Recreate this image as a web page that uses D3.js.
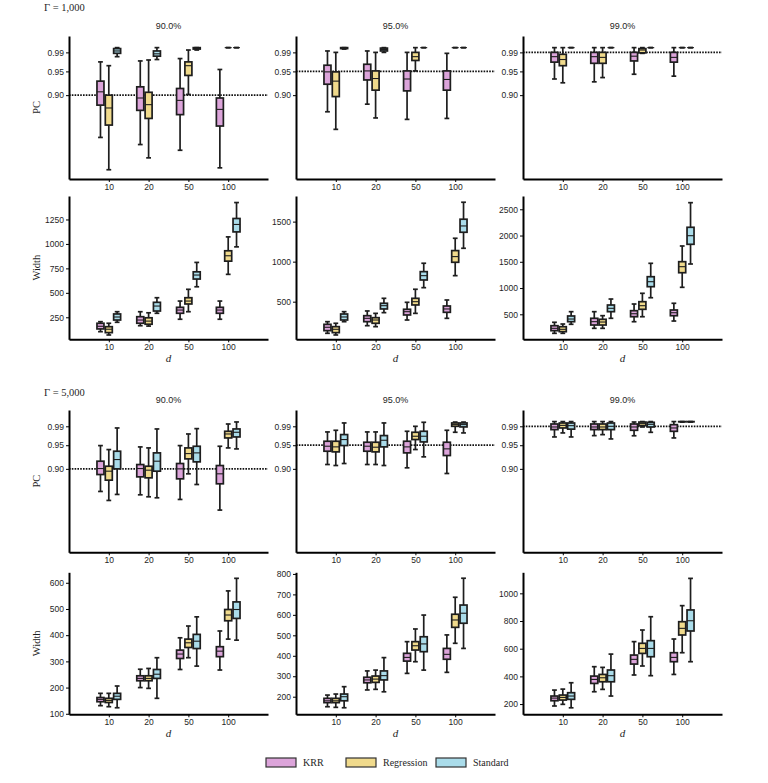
<!DOCTYPE html>
<html><head><meta charset="utf-8">
<script src="https://cdn.jsdelivr.net/npm/d3@7"></script>
<style>body{margin:0;background:#fff}</style>
</head><body><svg id="chart" width="768" height="783"></svg>
<script>
const categories = ["10","20","50","100"];
const methods = ["KRR","Regression","Standard"];
const colors = ["#dca4da","#f0da8c","#aadcea"];
const levels = ["90.0%","95.0%","99.0%"];
const targets = [0.90, 0.95, 0.99];
const gammaLabels = ["\u0393 = 1,000", "\u0393 = 5,000"];
const pcTicks = [0.90, 0.95, 0.99];

// five-number summaries [low whisker, q1, median, q3, high whisker]; per method (KRR, Regression, Standard), per d
const pc_g1000_90 = [
  [[0.811,0.879,0.907,0.9295,0.970],[0.796,0.868,0.894,0.9175,0.972],[0.784,0.859,0.889,0.914,0.977],[0.747,0.835,0.870,0.894,0.954]],
  [[0.743,0.837,0.873,0.900,0.962],[0.768,0.851,0.880,0.906,0.974],[0.9015,0.9415,0.962,0.970,0.995],[1,1,1,1,1]],
  [[0.981,0.988,0.993,0.998,1.0],[0.975,0.982,0.987,0.993,1.0],[0.995,0.997,0.999,1.0,1.0],[1,1,1,1,1]]
];
const pc_g1000_95 = [
  [[0.865,0.923,0.949,0.963,0.993],[0.881,0.932,0.951,0.965,0.993],[0.849,0.909,0.934,0.951,0.990],[0.851,0.9105,0.933,0.951,0.988]],
  [[0.828,0.897,0.9295,0.949,0.990],[0.852,0.9105,0.935,0.951,0.990],[0.951,0.973,0.981,0.990,1.0],[1,1,1,1,1]],
  [[0.997,0.998,0.999,1.0,1.0],[0.990,0.993,0.996,0.999,1.0],[1,1,1,1,1],[1,1,1,1,1]]
];
const pc_g1000_99 = [
  [[0.934,0.9695,0.981,0.990,1.0],[0.928,0.967,0.981,0.990,1.0],[0.944,0.972,0.982,0.990,1.0],[0.940,0.9695,0.9795,0.990,1.0]],
  [[0.926,0.962,0.975,0.986,1.0],[0.937,0.967,0.9795,0.990,1.0],[0.988,0.989,0.995,0.998,1.0],[1,1,1,1,1]],
  [[1,1,1,1,1],[1,1,1,1,1],[1,1,1,1,1],[1,1,1,1,1]]
];
const pc_g5000_90 = [
  [[0.8522,0.888,0.9007,0.9162,0.9492],[0.8451,0.8831,0.9007,0.9091,0.9464],[0.8353,0.8789,0.90,0.9113,0.9492],[0.8128,0.8684,0.8895,0.907,0.9478]],
  [[0.8332,0.8761,0.8951,0.9056,0.9408],[0.8409,0.881,0.8972,0.9056,0.9443],[0.8895,0.9211,0.9323,0.9443,0.9738],[0.9443,0.9654,0.9738,0.9795,0.9949]],
  [[0.8459,0.90,0.9197,0.9373,0.9865],[0.8388,0.8951,0.9162,0.9338,0.9844],[0.8669,0.9148,0.9338,0.9478,0.9851],[0.9422,0.9675,0.9774,0.9844,0.9992]]
];
const pc_g5000_95 = [
  [[0.9092,0.9373,0.9479,0.9584,0.9781],[0.9092,0.9373,0.9479,0.9563,0.9781],[0.9022,0.9338,0.9465,0.9584,0.9795],[0.8902,0.9282,0.9423,0.9563,0.9816]],
  [[0.9071,0.9359,0.9465,0.9584,0.9816],[0.9092,0.9359,0.9458,0.9563,0.9781],[0.9409,0.962,0.969,0.9774,0.990],[0.9774,0.990,0.9936,0.9971,0.999]],
  [[0.9113,0.9493,0.962,0.9725,0.9971],[0.9071,0.9465,0.9605,0.9704,0.9971],[0.9254,0.957,0.969,0.9795,0.9985],[0.976,0.9887,0.9936,0.9971,0.999]]
];
const pc_g5000_99 = [
  [[0.9675,0.983,0.9886,0.9949,1.0],[0.9703,0.983,0.9886,0.9949,1.0],[0.970,0.9816,0.9886,0.9949,0.9991],[0.9654,0.9794,0.9865,0.9935,1.0]],
  [[0.976,0.9865,0.992,0.997,1.0],[0.9724,0.983,0.9886,0.9949,1.0],[0.9886,0.9914,0.9957,0.999,1.0],[0.999,0.9995,1.0,1.0,1.0]],
  [[0.9675,0.984,0.9914,0.997,1.0],[0.9633,0.983,0.99,0.997,1.0],[0.9773,0.9886,0.9942,0.9984,1.0],[0.999,0.9995,1.0,1.0,1.0]]
];
const width_g1000_90 = [
  [[103,131,158,189,205],[164,189,222,256,307],[230,291,324,352,416],[230,291,324,352,416]],
  [[69,93,128,154,189],[160,179,211,245,296],[307,386,416,450,536],[689,824,879,930,1072]],
  [[199,222,253,284,307],[291,314,365,403,450],[562,641,682,715,811],[970,1123,1199,1260,1423]]
];
const width_g1000_95 = [
  [[105,138,180,217,250],[200,250,292,325,384],[271,334,375,405,492],[292,367,409,446,521]],
  [[84,113,155,188,230],[188,230,271,300,354],[354,459,500,542,655],[825,992,1063,1138,1292]],
  [[250,271,309,346,375],[363,409,450,480,542],[675,771,825,875,980],[1167,1367,1446,1530,1742]]
];
const width_g1000_99 = [
  [[138,188,233,283,348],[233,296,360,424,550],[359,454,511,569,696],[372,473,530,582,710]],
  [[138,169,214,264,315],[233,296,353,405,474],[454,595,664,740,900],[1014,1292,1407,1502,1801]],
  [[310,359,410,468,550],[424,550,614,677,791],[816,1026,1121,1216,1471],[1458,1833,1997,2157,2626]]
];
const width_g5000_90 = [
  [[131,146,155,162,178],[200,226,235,245,270],[269,311,328,343,390],[267,318,339,356,416]],
  [[127,143,151,159,178],[197,226,235,245,273],[314,353,371,385,435],[385,455,477,498,569]],
  [[123,155,167,178,206],[159,235,251,269,314],[282,349,377,403,470],[381,464,498,527,617]]
];
const width_g5000_95 = [
  [[151,171,180,192,208],[233,268,282,295,326],[314,374,392,412,469],[319,383,407,436,502]],
  [[148,171,180,192,213],[236,270,286,301,330],[371,428,449,469,531],[461,539,575,603,686]],
  [[146,180,200,213,249],[224,282,303,326,391],[330,420,458,493,599],[436,559,608,648,779]]
];
const width_g5000_99 = [
  [[186,224,243,258,301],[289,349,378,402,470],[410,489,523,554,651],[414,506,537,571,670]],
  [[198,229,248,265,308],[306,361,390,414,465],[475,566,602,639,735],[571,699,747,795,911]],
  [[173,234,258,282,354],[258,361,405,446,561],[405,542,602,658,831],[506,728,802,880,1108]]
];
const width_g1000_ticks = [[250,500,750,1000,1250],[500,1000,1500],[500,1000,1500,2000,2500]];
const width_g5000_ticks = [[100,200,300,400,500,600],[200,300,400,500,600,700,800],[200,400,600,800,1000]];

// scale configuration
const pcDomain = [0.7235, 1.0245];
const width_g1000_domains = [[25,1490],[30,1820],[24,2753]];
const width_g5000_domains = [[98,640],[114,808],[126,1152]];

const svg = d3.select("#chart");
const colX = [69, 296, 523];
const panelW = 199;
const rows = [
  {top:36, bottom:179, kind:"pc", data:[pc_g1000_90,pc_g1000_95,pc_g1000_99], title:true, label:"PC"},
  {top:196, bottom:339.3, kind:"w", data:[width_g1000_90,width_g1000_95,width_g1000_99], ticks:width_g1000_ticks, domains:width_g1000_domains, label:"Width", xlab:true},
  {top:410, bottom:552.3, kind:"pc", data:[pc_g5000_90,pc_g5000_95,pc_g5000_99], title:true, label:"PC"},
  {top:572.3, bottom:714.3, kind:"w", data:[width_g5000_90,width_g5000_95,width_g5000_99], ticks:width_g5000_ticks, domains:width_g5000_domains, label:"Width", xlab:true}
];
const sansFont = "'Liberation Sans', Arial, sans-serif";
const serifFont = "'Liberation Serif', 'DejaVu Serif', serif";
const ink = "#1e1e1e";

svg.selectAll("text.gamma").data(gammaLabels).enter().append("text")
  .attr("x", 44).attr("y", (d,i)=> i===0 ? 11 : 396)
  .style("font-family", serifFont).style("font-size","10.5px").attr("fill", ink)
  .text(d=>d);

rows.forEach((row, ri) => {
  for (let ci = 0; ci < 3; ci++) {
    const x0 = colX[ci];
    const g = svg.append("g");
    const x = d3.scalePoint().domain(categories).range([x0, x0 + panelW]).padding(1);
    const xm = d3.scaleBand().domain(methods).range([-12.5, 12.5]);
    const y = d3.scaleLinear()
      .domain(row.kind === "pc" ? pcDomain : row.domains[ci])
      .range([row.bottom, row.top]);
    const data = row.data[ci];

    if (row.title) {
      g.append("text").attr("x", x0 + panelW/2).attr("y", row.top - 7)
        .attr("text-anchor","middle").style("font-family", sansFont).style("font-size","9px")
        .attr("fill", ink).text(levels[ci]);
    }
    if (row.kind === "pc") {
      g.append("line").attr("x1", x0).attr("x2", x0 + panelW)
        .attr("y1", y(targets[ci])).attr("y2", y(targets[ci]))
        .attr("stroke", "#111").attr("stroke-width", 1.8).attr("stroke-dasharray", "1.6,1.2");
    }
    const bw = 7;
    methods.forEach((m, mi) => {
      data[mi].forEach((s, k) => {
        const cx = x(categories[k]) + xm(m) + xm.bandwidth()/2;
        const [lo, q1, med, q3, hi] = s;
        const wg = g.append("g");
        wg.append("line").attr("x1", cx).attr("x2", cx).attr("y1", y(hi)).attr("y2", y(q3))
          .attr("stroke", ink).attr("stroke-width", 1.7);
        wg.append("line").attr("x1", cx).attr("x2", cx).attr("y1", y(q1)).attr("y2", y(lo))
          .attr("stroke", ink).attr("stroke-width", 1.7);
        [hi, lo].forEach(v => wg.append("line").attr("x1", cx-2.4).attr("x2", cx+2.4)
          .attr("y1", y(v)).attr("y2", y(v)).attr("stroke", ink).attr("stroke-width", 1.7));
        wg.append("rect").attr("x", cx - bw/2).attr("width", bw)
          .attr("y", y(q3)).attr("height", Math.max(0, y(q1) - y(q3)))
          .attr("fill", colors[mi]).attr("stroke", ink).attr("stroke-width", 1.7);
        wg.append("line").attr("x1", cx - bw/2).attr("x2", cx + bw/2)
          .attr("y1", y(med)).attr("y2", y(med)).attr("stroke", ink).attr("stroke-width", 1.1);
      });
    });

    const yAxis = d3.axisLeft(y).tickSize(3).tickSizeOuter(0).tickPadding(2)
      .tickValues(row.kind === "pc" ? pcTicks : row.ticks[ci])
      .tickFormat(row.kind === "pc" ? d3.format(".2f") : d3.format("d"));
    const ya = g.append("g").attr("transform", `translate(${x0},0)`).call(yAxis);
    const xAxis = d3.axisBottom(x).tickSize(3).tickSizeOuter(0).tickPadding(1.5);
    const xa = g.append("g").attr("transform", `translate(0,${row.bottom})`).call(xAxis);
    [ya, xa].forEach(a => {
      a.select(".domain").attr("stroke", "#000").attr("stroke-width", 2);
      a.selectAll(".tick line").attr("stroke", "#000").attr("stroke-width", 1);
      a.selectAll(".tick text").style("font-family", sansFont).style("font-size", "8.5px").attr("fill", ink);
    });

    if (ci === 0) {
      g.append("text").attr("transform", `translate(40,${(row.top+row.bottom)/2}) rotate(-90)`)
        .attr("text-anchor","middle").style("font-family", serifFont).style("font-size","10.5px")
        .attr("fill", ink).text(row.label);
    }
    if (row.xlab) {
      g.append("text").attr("x", x0 + panelW/2).attr("y", row.bottom + 23)
        .attr("text-anchor","middle").style("font-family", serifFont).style("font-style","italic")
        .style("font-size","11px").attr("fill", ink).text("d");
    }
  }
});

// legend
const legX = [266, 346, 436];
const lg = svg.append("g");
methods.forEach((m, i) => {
  lg.append("rect").attr("x", legX[i]).attr("y", 758).attr("width", 30).attr("height", 9)
    .attr("fill", colors[i]).attr("stroke", "#333").attr("stroke-width", 1.2);
  lg.append("text").attr("x", legX[i] + 37).attr("y", 766)
    .style("font-family", serifFont).style("font-size","10px").attr("fill", ink).text(m);
});
</script>
</body></html>
